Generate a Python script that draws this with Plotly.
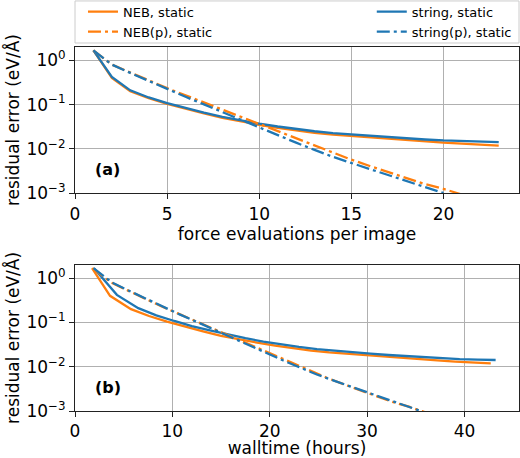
"""Convergence of NEB and string methods: residual error vs evaluations and walltime."""
import plotly.graph_objects as go
from plotly.subplots import make_subplots

# force evaluations per image
EVALS_STATIC = list(range(1, 24))
EVALS_NEB_P = list(range(1, 22))
EVALS_STRING_P = list(range(1, 21))

# residual error (eV/Å)
NEB_STATIC = [1.68, 0.40, 0.20, 0.14, 0.104, 0.080, 0.063, 0.050, 0.041, 0.035, 0.030, 0.026,
              0.023, 0.021, 0.0195, 0.018, 0.0167, 0.0155, 0.0145, 0.0139, 0.0131, 0.0124, 0.0119]
STRING_STATIC = [1.68, 0.42, 0.21, 0.145, 0.108, 0.083, 0.066, 0.053, 0.044, 0.037, 0.032, 0.028,
                 0.025, 0.0228, 0.0212, 0.0197, 0.0184, 0.0173, 0.0163, 0.0155, 0.0149, 0.0145, 0.0142]
NEB_P = [1.68, 0.80, 0.53, 0.35, 0.235, 0.162, 0.112, 0.077, 0.053, 0.036, 0.025, 0.0172,
         0.0118, 0.0081, 0.0057, 0.0041, 0.0030, 0.0022, 0.0016, 0.00125, 0.00093]
STRING_P = [1.68, 0.80, 0.52, 0.34, 0.22, 0.150, 0.101, 0.068, 0.045, 0.030, 0.020, 0.0138,
            0.0095, 0.0066, 0.0048, 0.0035, 0.0026, 0.0019, 0.00138, 0.00100]

# walltime (hours)
WALL_NEB_STATIC = [1.75, 3.6, 5.75, 7.6, 9.45, 11.3, 13.15, 15.0, 16.85, 18.7, 20.55, 22.4,
                   24.25, 26.1, 27.95, 29.8, 31.65, 33.5, 35.35, 37.2, 39.05, 40.9, 42.7]
WALL_STRING_STATIC = [1.95, 4.3, 6.5, 8.35, 10.2, 12.0, 13.85, 15.7, 17.5, 19.35, 21.2, 23.0,
                      24.85, 26.7, 28.5, 30.35, 32.2, 34.0, 35.85, 37.7, 39.5, 41.35, 43.2]
WALL_NEB_P = [1.8, 3.7, 5.4, 7.1, 8.8, 10.5, 12.2, 13.9, 15.6, 17.3, 19.0, 20.7, 22.4, 24.1,
              25.8, 27.5, 29.2, 30.9, 32.6, 34.3, 36.0]
WALL_STRING_P = [1.9, 3.8, 5.55, 7.3, 9.05, 10.8, 12.6, 14.35, 16.1, 17.85, 19.6, 21.4, 23.15,
                 24.9, 26.65, 28.4, 30.2, 31.95, 33.7, 35.5]

Y_TICKS = [1e-3, 1e-2, 1e-1, 1]
Y_TICKTEXT = ["10<sup>−3</sup>", "10<sup>−2</sup>", "10<sup>−1</sup>", "10<sup>0</sup>"]

ORANGE = "#ff7f0e"
BLUE = "#1f77b4"
DASHDOT = "13px,4px,3px,4px"
FONT = "DejaVu Sans"

fig = make_subplots(rows=2, cols=1, vertical_spacing=0.197)

series = [
    ("NEB, static", EVALS_STATIC, WALL_NEB_STATIC, NEB_STATIC, ORANGE, "solid", "legend"),
    ("string, static", EVALS_STATIC, WALL_STRING_STATIC, STRING_STATIC, BLUE, "solid", "legend2"),
    ("NEB(p), static", EVALS_NEB_P, WALL_NEB_P, NEB_P, ORANGE, DASHDOT, "legend"),
    ("string(p), static", EVALS_STRING_P, WALL_STRING_P, STRING_P, BLUE, DASHDOT, "legend2"),
]
for name, evals, wall, err, color, dash, legend in series:
    line = dict(color=color, width=2.3, dash=dash)
    fig.add_trace(go.Scatter(x=evals, y=err, mode="lines", name=name, line=line,
                             legend=legend, legendgroup=name), row=1, col=1)
    fig.add_trace(go.Scatter(x=wall, y=err, mode="lines", name=name, line=line,
                             legend=legend, legendgroup=name, showlegend=False), row=2, col=1)

axis_style = dict(
    showline=True, mirror=True, linecolor="#222222", linewidth=1,
    showgrid=True, gridcolor="#b0b0b0", gridwidth=1, zeroline=False,
    ticks="outside", ticklen=5, tickcolor="#222222", automargin=False,
    tickfont=dict(family=FONT, size=17, color="black"),
    title_font=dict(family=FONT, size=17, color="black"),
)
fig.update_xaxes(**axis_style)
fig.update_yaxes(**axis_style)

fig.update_xaxes(range=[0, 24.1], dtick=5, title_text="force evaluations per image",
                 title_standoff=4, row=1, col=1)
fig.update_xaxes(range=[0, 45.6], dtick=10, title_text="walltime (hours)",
                 title_standoff=6, row=2, col=1)
fig.update_yaxes(type="log", range=[-3, 0.301], tickvals=Y_TICKS, ticktext=Y_TICKTEXT,
                 title_text="residual error (eV/Å)", title_standoff=2)

for label, ref in [("(a)", "y domain"), ("(b)", "y2 domain")]:
    fig.add_annotation(text=f"<b>{label}</b>", xref="x domain" if ref == "y domain" else "x2 domain",
                       yref=ref, x=0.04, y=0.16, xanchor="left", yanchor="middle",
                       showarrow=False, font=dict(family=FONT, size=16, color="black"))

# legend frame spanning the plot width, as in the original
fig.add_shape(type="rect", xref="paper", yref="paper", x0=0, x1=1, y0=1.011, y1=1.1265,
              line=dict(color="#cccccc", width=1), fillcolor="rgba(255,255,255,0.8)", layer="below")

legend_style = dict(font=dict(family=FONT, size=13, color="black"), bgcolor="rgba(0,0,0,0)",
                    yanchor="top", y=1.138, tracegroupgap=0, itemwidth=30)
fig.update_layout(
    width=520, height=458,
    margin=dict(l=75, r=1, t=47, b=47, autoexpand=False),
    plot_bgcolor="white", paper_bgcolor="white",
    font=dict(family=FONT, size=13, color="black"),
    legend=dict(x=0.018, xanchor="left", **legend_style),
    legend2=dict(x=0.995, xanchor="right", **legend_style),
)

# drop the browser's default body margin so the figure sits at the page corner
fig.write_html("out.html", config={"displayModeBar": False},
               post_script="document.body.style.margin = '0';")
